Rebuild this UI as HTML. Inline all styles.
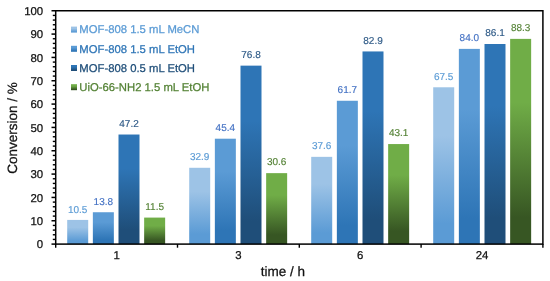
<!DOCTYPE html><html><head><meta charset="utf-8"><title>Conversion chart</title>
<style>html,body{margin:0;padding:0;background:#fff}body{width:550px;height:281px;overflow:hidden}svg{display:block}text{font-family:"Liberation Sans",Arial,sans-serif;text-rendering:geometricPrecision}</style></head><body>
<svg width="550" height="281" viewBox="0 0 550 281">
<defs>
<linearGradient id="g0" x1="0" y1="0" x2="0" y2="1"><stop offset="0" stop-color="#9dc3e6"/><stop offset="0.31" stop-color="#9dc3e6"/><stop offset="0.87" stop-color="#5b9bd5"/><stop offset="1" stop-color="#5b9bd5"/></linearGradient>
<linearGradient id="g1" x1="0" y1="0" x2="0" y2="1"><stop offset="0" stop-color="#5b9bd5"/><stop offset="0.31" stop-color="#5b9bd5"/><stop offset="0.87" stop-color="#2e75b6"/><stop offset="1" stop-color="#2e75b6"/></linearGradient>
<linearGradient id="g2" x1="0" y1="0" x2="0" y2="1"><stop offset="0" stop-color="#2e75b6"/><stop offset="0.31" stop-color="#2e75b6"/><stop offset="0.87" stop-color="#1f4e79"/><stop offset="1" stop-color="#1f4e79"/></linearGradient>
<linearGradient id="g3" x1="0" y1="0" x2="0" y2="1"><stop offset="0" stop-color="#70ad47"/><stop offset="0.31" stop-color="#70ad47"/><stop offset="0.87" stop-color="#375623"/><stop offset="1" stop-color="#375623"/></linearGradient>
</defs>
<rect width="550" height="281" fill="#fff"/>
<rect x="67.20" y="219.92" width="21.0" height="24.18" fill="url(#g0)"/>
<text x="77.70" y="212.72" font-size="10" text-anchor="middle" fill="#5b9bd5" stroke="#5b9bd5" stroke-width="0.15">10.5</text>
<rect x="92.85" y="212.24" width="21.0" height="31.86" fill="url(#g1)"/>
<text x="103.35" y="205.04" font-size="10" text-anchor="middle" fill="#4472c4" stroke="#4472c4" stroke-width="0.15">13.8</text>
<rect x="118.50" y="134.52" width="21.0" height="109.58" fill="url(#g2)"/>
<text x="129.00" y="127.32" font-size="10" text-anchor="middle" fill="#2d5986" stroke="#2d5986" stroke-width="0.15">47.2</text>
<rect x="144.15" y="217.59" width="21.0" height="26.51" fill="url(#g3)"/>
<text x="154.65" y="210.39" font-size="10" text-anchor="middle" fill="#548235" stroke="#548235" stroke-width="0.15">11.5</text>
<rect x="189.20" y="167.79" width="21.0" height="76.31" fill="url(#g0)"/>
<text x="199.70" y="160.09" font-size="10" text-anchor="middle" fill="#5b9bd5" stroke="#5b9bd5" stroke-width="0.15">32.9</text>
<rect x="214.85" y="138.70" width="21.0" height="105.40" fill="url(#g1)"/>
<text x="225.35" y="131.00" font-size="10" text-anchor="middle" fill="#4472c4" stroke="#4472c4" stroke-width="0.15">45.4</text>
<rect x="240.50" y="65.64" width="21.0" height="178.46" fill="url(#g2)"/>
<text x="251.00" y="57.94" font-size="10" text-anchor="middle" fill="#2d5986" stroke="#2d5986" stroke-width="0.15">76.8</text>
<rect x="266.15" y="173.14" width="21.0" height="70.96" fill="url(#g3)"/>
<text x="276.65" y="165.44" font-size="10" text-anchor="middle" fill="#548235" stroke="#548235" stroke-width="0.15">30.6</text>
<rect x="311.20" y="156.85" width="21.0" height="87.25" fill="url(#g0)"/>
<text x="321.70" y="149.15" font-size="10" text-anchor="middle" fill="#5b9bd5" stroke="#5b9bd5" stroke-width="0.15">37.6</text>
<rect x="336.85" y="100.77" width="21.0" height="143.33" fill="url(#g1)"/>
<text x="347.35" y="93.07" font-size="10" text-anchor="middle" fill="#4472c4" stroke="#4472c4" stroke-width="0.15">61.7</text>
<rect x="362.50" y="51.44" width="21.0" height="192.66" fill="url(#g2)"/>
<text x="373.00" y="43.74" font-size="10" text-anchor="middle" fill="#2d5986" stroke="#2d5986" stroke-width="0.15">82.9</text>
<rect x="388.15" y="144.06" width="21.0" height="100.04" fill="url(#g3)"/>
<text x="398.65" y="136.36" font-size="10" text-anchor="middle" fill="#548235" stroke="#548235" stroke-width="0.15">43.1</text>
<rect x="433.20" y="87.28" width="21.0" height="156.82" fill="url(#g0)"/>
<text x="443.70" y="79.58" font-size="10" text-anchor="middle" fill="#5b9bd5" stroke="#5b9bd5" stroke-width="0.15">67.5</text>
<rect x="458.85" y="48.88" width="21.0" height="195.22" fill="url(#g1)"/>
<text x="469.35" y="41.18" font-size="10" text-anchor="middle" fill="#4472c4" stroke="#4472c4" stroke-width="0.15">84.0</text>
<rect x="484.50" y="44.00" width="21.0" height="200.10" fill="url(#g2)"/>
<text x="495.00" y="36.30" font-size="10" text-anchor="middle" fill="#2d5986" stroke="#2d5986" stroke-width="0.15">86.1</text>
<rect x="510.15" y="38.88" width="21.0" height="205.22" fill="url(#g3)"/>
<text x="520.65" y="31.18" font-size="10" text-anchor="middle" fill="#548235" stroke="#548235" stroke-width="0.15">88.3</text>
<line x1="51.5" x2="55.7" y1="244.10" y2="244.10" stroke="#000" stroke-width="1.5"/>
<text x="43.2" y="248.20" font-size="11.4" text-anchor="end" fill="#111" stroke="#111" stroke-width="0.25">0</text>
<line x1="52.8" x2="55.7" y1="239.43" y2="239.43" stroke="#000" stroke-width="1.4"/>
<line x1="52.8" x2="55.7" y1="234.77" y2="234.77" stroke="#000" stroke-width="1.4"/>
<line x1="52.8" x2="55.7" y1="230.10" y2="230.10" stroke="#000" stroke-width="1.4"/>
<line x1="52.8" x2="55.7" y1="225.43" y2="225.43" stroke="#000" stroke-width="1.4"/>
<line x1="51.5" x2="55.7" y1="220.76" y2="220.76" stroke="#000" stroke-width="1.5"/>
<text x="43.2" y="224.86" font-size="11.4" text-anchor="end" fill="#111" stroke="#111" stroke-width="0.25">10</text>
<line x1="52.8" x2="55.7" y1="216.10" y2="216.10" stroke="#000" stroke-width="1.4"/>
<line x1="52.8" x2="55.7" y1="211.43" y2="211.43" stroke="#000" stroke-width="1.4"/>
<line x1="52.8" x2="55.7" y1="206.76" y2="206.76" stroke="#000" stroke-width="1.4"/>
<line x1="52.8" x2="55.7" y1="202.10" y2="202.10" stroke="#000" stroke-width="1.4"/>
<line x1="51.5" x2="55.7" y1="197.43" y2="197.43" stroke="#000" stroke-width="1.5"/>
<text x="43.2" y="201.53" font-size="11.4" text-anchor="end" fill="#111" stroke="#111" stroke-width="0.25">20</text>
<line x1="52.8" x2="55.7" y1="192.76" y2="192.76" stroke="#000" stroke-width="1.4"/>
<line x1="52.8" x2="55.7" y1="188.10" y2="188.10" stroke="#000" stroke-width="1.4"/>
<line x1="52.8" x2="55.7" y1="183.43" y2="183.43" stroke="#000" stroke-width="1.4"/>
<line x1="52.8" x2="55.7" y1="178.76" y2="178.76" stroke="#000" stroke-width="1.4"/>
<line x1="51.5" x2="55.7" y1="174.09" y2="174.09" stroke="#000" stroke-width="1.5"/>
<text x="43.2" y="178.19" font-size="11.4" text-anchor="end" fill="#111" stroke="#111" stroke-width="0.25">30</text>
<line x1="52.8" x2="55.7" y1="169.43" y2="169.43" stroke="#000" stroke-width="1.4"/>
<line x1="52.8" x2="55.7" y1="164.76" y2="164.76" stroke="#000" stroke-width="1.4"/>
<line x1="52.8" x2="55.7" y1="160.09" y2="160.09" stroke="#000" stroke-width="1.4"/>
<line x1="52.8" x2="55.7" y1="155.43" y2="155.43" stroke="#000" stroke-width="1.4"/>
<line x1="51.5" x2="55.7" y1="150.76" y2="150.76" stroke="#000" stroke-width="1.5"/>
<text x="43.2" y="154.86" font-size="11.4" text-anchor="end" fill="#111" stroke="#111" stroke-width="0.25">40</text>
<line x1="52.8" x2="55.7" y1="146.09" y2="146.09" stroke="#000" stroke-width="1.4"/>
<line x1="52.8" x2="55.7" y1="141.43" y2="141.43" stroke="#000" stroke-width="1.4"/>
<line x1="52.8" x2="55.7" y1="136.76" y2="136.76" stroke="#000" stroke-width="1.4"/>
<line x1="52.8" x2="55.7" y1="132.09" y2="132.09" stroke="#000" stroke-width="1.4"/>
<line x1="51.5" x2="55.7" y1="127.42" y2="127.42" stroke="#000" stroke-width="1.5"/>
<text x="43.2" y="131.53" font-size="11.4" text-anchor="end" fill="#111" stroke="#111" stroke-width="0.25">50</text>
<line x1="52.8" x2="55.7" y1="122.76" y2="122.76" stroke="#000" stroke-width="1.4"/>
<line x1="52.8" x2="55.7" y1="118.09" y2="118.09" stroke="#000" stroke-width="1.4"/>
<line x1="52.8" x2="55.7" y1="113.42" y2="113.42" stroke="#000" stroke-width="1.4"/>
<line x1="52.8" x2="55.7" y1="108.76" y2="108.76" stroke="#000" stroke-width="1.4"/>
<line x1="51.5" x2="55.7" y1="104.09" y2="104.09" stroke="#000" stroke-width="1.5"/>
<text x="43.2" y="108.19" font-size="11.4" text-anchor="end" fill="#111" stroke="#111" stroke-width="0.25">60</text>
<line x1="52.8" x2="55.7" y1="99.42" y2="99.42" stroke="#000" stroke-width="1.4"/>
<line x1="52.8" x2="55.7" y1="94.76" y2="94.76" stroke="#000" stroke-width="1.4"/>
<line x1="52.8" x2="55.7" y1="90.09" y2="90.09" stroke="#000" stroke-width="1.4"/>
<line x1="52.8" x2="55.7" y1="85.42" y2="85.42" stroke="#000" stroke-width="1.4"/>
<line x1="51.5" x2="55.7" y1="80.75" y2="80.75" stroke="#000" stroke-width="1.5"/>
<text x="43.2" y="84.85" font-size="11.4" text-anchor="end" fill="#111" stroke="#111" stroke-width="0.25">70</text>
<line x1="52.8" x2="55.7" y1="76.09" y2="76.09" stroke="#000" stroke-width="1.4"/>
<line x1="52.8" x2="55.7" y1="71.42" y2="71.42" stroke="#000" stroke-width="1.4"/>
<line x1="52.8" x2="55.7" y1="66.75" y2="66.75" stroke="#000" stroke-width="1.4"/>
<line x1="52.8" x2="55.7" y1="62.09" y2="62.09" stroke="#000" stroke-width="1.4"/>
<line x1="51.5" x2="55.7" y1="57.42" y2="57.42" stroke="#000" stroke-width="1.5"/>
<text x="43.2" y="61.52" font-size="11.4" text-anchor="end" fill="#111" stroke="#111" stroke-width="0.25">80</text>
<line x1="52.8" x2="55.7" y1="52.75" y2="52.75" stroke="#000" stroke-width="1.4"/>
<line x1="52.8" x2="55.7" y1="48.09" y2="48.09" stroke="#000" stroke-width="1.4"/>
<line x1="52.8" x2="55.7" y1="43.42" y2="43.42" stroke="#000" stroke-width="1.4"/>
<line x1="52.8" x2="55.7" y1="38.75" y2="38.75" stroke="#000" stroke-width="1.4"/>
<line x1="51.5" x2="55.7" y1="34.09" y2="34.09" stroke="#000" stroke-width="1.5"/>
<text x="43.2" y="38.19" font-size="11.4" text-anchor="end" fill="#111" stroke="#111" stroke-width="0.25">90</text>
<line x1="52.8" x2="55.7" y1="29.42" y2="29.42" stroke="#000" stroke-width="1.4"/>
<line x1="52.8" x2="55.7" y1="24.75" y2="24.75" stroke="#000" stroke-width="1.4"/>
<line x1="52.8" x2="55.7" y1="20.08" y2="20.08" stroke="#000" stroke-width="1.4"/>
<line x1="52.8" x2="55.7" y1="15.42" y2="15.42" stroke="#000" stroke-width="1.4"/>
<line x1="51.5" x2="55.7" y1="10.75" y2="10.75" stroke="#000" stroke-width="1.5"/>
<text x="43.2" y="14.85" font-size="11.4" text-anchor="end" fill="#111" stroke="#111" stroke-width="0.25">100</text>
<line x1="55.70" x2="55.70" y1="244.1" y2="247.7" stroke="#000" stroke-width="1.4"/>
<line x1="177.50" x2="177.50" y1="244.1" y2="247.7" stroke="#000" stroke-width="1.4"/>
<line x1="299.30" x2="299.30" y1="244.1" y2="247.7" stroke="#000" stroke-width="1.4"/>
<line x1="421.10" x2="421.10" y1="244.1" y2="247.7" stroke="#000" stroke-width="1.4"/>
<line x1="542.90" x2="542.90" y1="244.1" y2="247.7" stroke="#000" stroke-width="1.4"/>
<rect x="55.7" y="10.75" width="487.20" height="233.35" fill="none" stroke="#000" stroke-width="1.5"/>
<text x="116.60" y="259.2" font-size="11.4" text-anchor="middle" fill="#111" stroke="#111" stroke-width="0.25">1</text>
<text x="238.40" y="259.2" font-size="11.4" text-anchor="middle" fill="#111" stroke="#111" stroke-width="0.25">3</text>
<text x="360.20" y="259.2" font-size="11.4" text-anchor="middle" fill="#111" stroke="#111" stroke-width="0.25">6</text>
<text x="482.00" y="259.2" font-size="11.4" text-anchor="middle" fill="#111" stroke="#111" stroke-width="0.25">24</text>
<text x="282.8" y="276" font-size="13.5" text-anchor="middle" fill="#111" stroke="#111" stroke-width="0.25">time / h</text>
<text transform="translate(17.3 128) rotate(-90)" font-size="13.5" text-anchor="middle" fill="#111" stroke="#111" stroke-width="0.25">Conversion / %</text>
<rect x="71" y="26.60" width="6" height="6" fill="url(#g0)"/>
<text x="79.3" y="33.40" font-size="11.3" fill="#5b9bd5" stroke="#5b9bd5" stroke-width="0.25">MOF-808 1.5 mL MeCN</text>
<rect x="71" y="45.80" width="6" height="6" fill="url(#g1)"/>
<text x="79.3" y="52.60" font-size="11.3" fill="#2e75b6" stroke="#2e75b6" stroke-width="0.25">MOF-808 1.5 mL EtOH</text>
<rect x="71" y="65.00" width="6" height="6" fill="url(#g2)"/>
<text x="79.3" y="71.80" font-size="11.3" fill="#1f4e79" stroke="#1f4e79" stroke-width="0.25">MOF-808 0.5 mL EtOH</text>
<rect x="71" y="84.20" width="6" height="6" fill="url(#g3)"/>
<text x="79.3" y="91.00" font-size="11.3" fill="#548235" stroke="#548235" stroke-width="0.25">UiO-66-NH2 1.5 mL EtOH</text>
</svg></body></html>
